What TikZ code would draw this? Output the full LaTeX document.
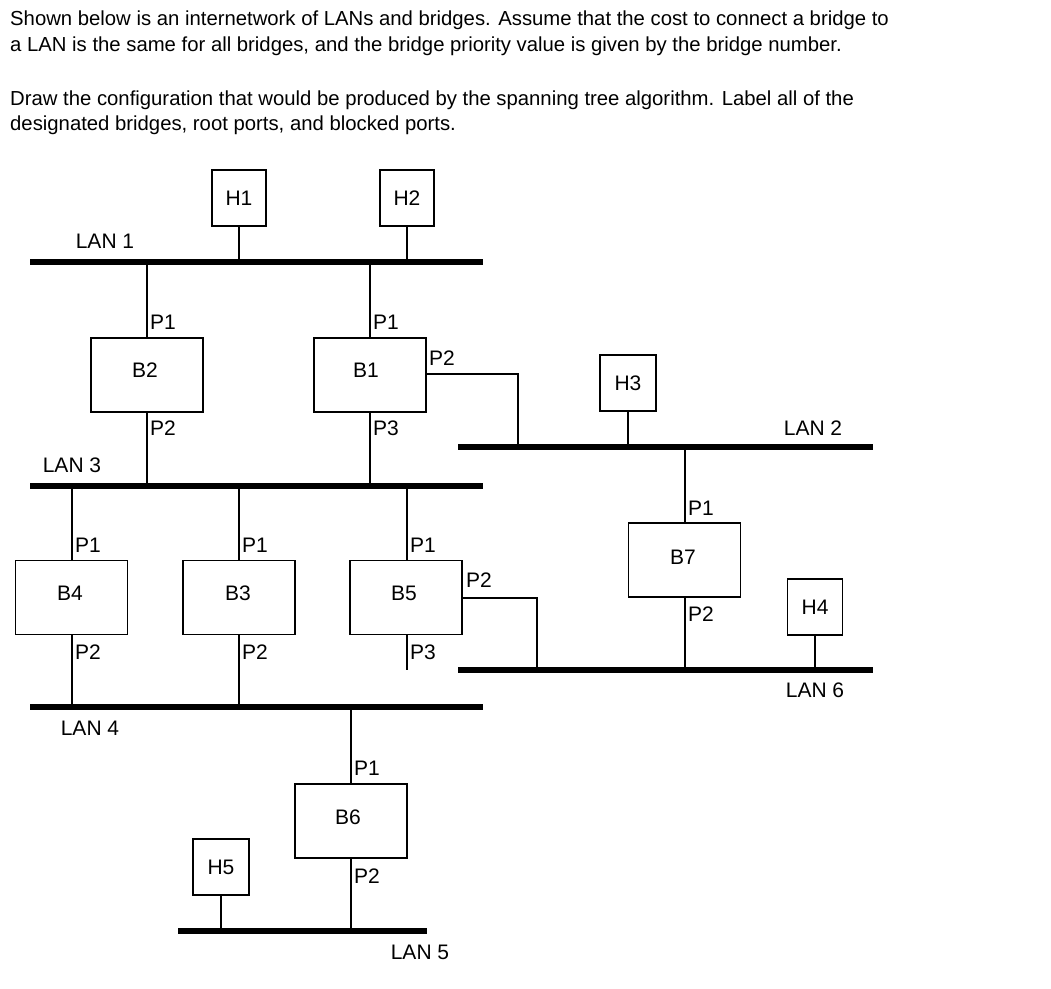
\documentclass[tikz,border=0pt]{standalone}
\usepackage{fontspec}
\setmainfont{Liberation Sans}
\begin{document}
\begin{tikzpicture}[x=1pt,y=-1pt,
  box/.style={draw,line width=1.3pt,inner sep=0pt},
  lan/.style={line width=6pt},
  wire/.style={line width=1.3pt},
  lbl/.style={font=\fontsize{21}{24}\selectfont,inner sep=0pt},
  pl/.style={lbl,anchor=west},
  txt/.style={font=\fontsize{20.3}{24}\selectfont,anchor=west,inner sep=0pt}]
\useasboundingbox (0,0) rectangle (1051,988);
\node[txt] (t1) at (10,20) {Shown below is an internetwork of LANs and bridges. Assume that the cost to connect a bridge to};
\node[txt] (t2) at (10,46) {a LAN is the same for all bridges, and the bridge priority value is given by the bridge number.};
\node[txt] (t3) at (10,100) {Draw the configuration that would be produced by the spanning tree algorithm. Label all of the};
\node[txt] (t4) at (10,125) {designated bridges, root ports, and blocked ports.};
% LANs
\draw[lan] (30,262) -- (483,262);
\draw[lan] (458,447) -- (873,447);
\draw[lan] (30,486) -- (483,486);
\draw[lan] (30,707) -- (483,707);
\draw[lan] (458,670) -- (873,670);
\draw[lan] (178,931) -- (427,931);
\node[lbl] (L1) at (105,241) {LAN 1};
\node[lbl] (L2) at (813,428) {LAN 2};
\node[lbl] (L3) at (72,465) {LAN 3};
\node[lbl] (L4) at (90,728) {LAN 4};
\node[lbl] (L6) at (815,690) {LAN 6};
\node[lbl] (L5) at (420,952) {LAN 5};
% hosts
\newcommand{\hostbox}[5]{\node[box,minimum width=#3pt,minimum height=56pt,lbl] (#1) at (#2) {#4};
  \draw[wire] (#1.south) -- ++(0,#5);}
\hostbox{H1}{239,198}{54}{H1}{36}
\hostbox{H2}{407,198}{54}{H2}{36}
\hostbox{H3}{628,383}{56}{H3}{36}
\hostbox{H4}{815,607}{55}{H4}{35}
\hostbox{H5}{221,867}{56}{H5}{36}
% bridges
\tikzset{br/.style={box,minimum width=112pt,minimum height=74pt,fill=white,lbl}}
\draw[wire] (147,262) -- (147,486);
\draw[wire] (370,262) -- (370,486);
\draw[wire] (72,486) -- (72,707);
\draw[wire] (239,486) -- (239,707);
\draw[wire] (407,486) -- (407,670);
\draw[wire] (685,447) -- (685,670);
\draw[wire] (351,707) -- (351,931);
\node[br] (B2) at (147,375) {};
\node[br] (B1) at (370,375) {};
\node[br] (B4) at (71.5,597.5) {};
\node[br] (B3) at (239,597.5) {};
\node[br] (B5) at (406,597.5) {};
\node[br] (B7) at (684.5,560) {};
\node[br] (B6) at (351,821) {};
\draw[wire] (B1.east |- 0,374) -- (518,374) -- (518,447);
\draw[wire] (B5.east |- 0,598) -- (537,598) -- (537,670);
\node[lbl] at (145,370) {B2}; \node[pl] at (150,322) {P1}; \node[pl] at (150,428) {P2};
\node[lbl] at (366,370) {B1}; \node[pl] at (373,322) {P1}; \node[pl] at (373,428) {P3}; \node[pl] at (429,358) {P2};
\node[lbl] at (70,593) {B4}; \node[pl] at (75,545) {P1}; \node[pl] at (75,652) {P2};
\node[lbl] at (238,593) {B3}; \node[pl] at (242,545) {P1}; \node[pl] at (242,652) {P2};
\node[lbl] at (404,593) {B5}; \node[pl] at (410,545) {P1}; \node[pl] at (410,652) {P3}; \node[pl] at (466,580) {P2};
\node[lbl] at (683,557) {B7}; \node[pl] at (688,508) {P1}; \node[pl] at (688,614) {P2};
\node[lbl] at (348,817) {B6}; \node[pl] at (354,768) {P1}; \node[pl] at (354,876) {P2};
\end{tikzpicture}
\end{document}
